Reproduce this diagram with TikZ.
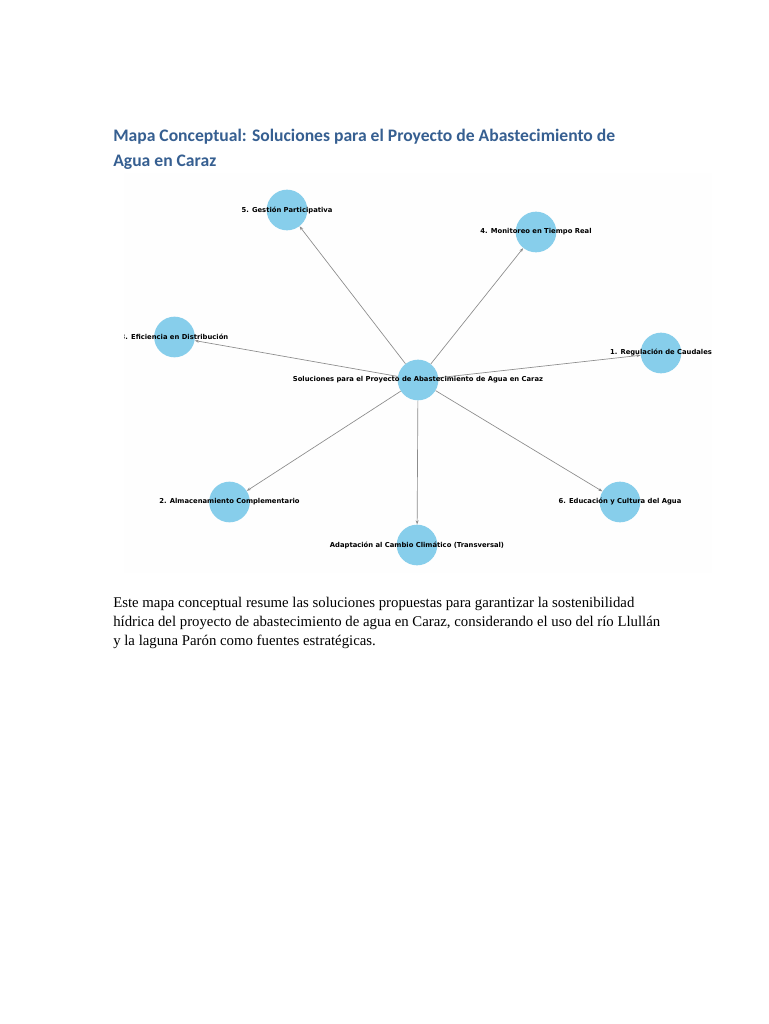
\documentclass[tikz,border=0pt]{standalone}
\usepackage{fontspec}
\setmainfont{Liberation Serif}
\newfontfamily\titlefont{Carlito}
\newfontfamily\labfont{DejaVu Sans}
\usetikzlibrary{arrows.meta}
\definecolor{headblue}{HTML}{365F91}
\definecolor{skyblue}{HTML}{87CEEB}
\definecolor{edgegray}{HTML}{8C8C8C}
\begin{document}
\begin{tikzpicture}[x=0.75pt,y=-0.75pt,
  bubble/.style={circle,fill=skyblue,draw=none,minimum size=30.5pt,inner sep=0pt},
  lab/.style={font=\labfont\bfseries\fontsize{5.1}{6}\selectfont,text=black,inner sep=0pt},
  conn/.style={draw=edgegray,line width=0.5pt,-{Stealth[length=3pt,width=2.2pt]}},
  titletext/.style={font=\titlefont\bfseries\fontsize{13.2}{16}\selectfont,text=headblue,anchor=base west,inner sep=0pt},
  bodytext/.style={font=\fontsize{11.1}{13}\selectfont,text=black,anchor=base west,inner sep=0pt}]
\useasboundingbox (0,0) rectangle (768,1024);
\fill[white] (0,0) rectangle (768,1024);
\node[titletext] (t1) at (113,142) {Mapa Conceptual: Soluciones para el Proyecto de Abastecimiento de};
\node[titletext] (t2) at (113,166) {Agua en Caraz};
\begin{scope}
\clip (124,173) rectangle (712,573);
\fill[black!0.5] (124,173) rectangle (712,573);
\node[bubble] (c) at (418,380) {};
\node[bubble] (n5) at (287,210) {};
\node[bubble] (n4) at (536,232) {};
\node[bubble] (n3) at (174.5,337) {};
\node[bubble] (n1) at (661,353) {};
\node[bubble] (n2) at (229.5,502) {};
\node[bubble] (n7) at (417,545) {};
\node[bubble] (n6) at (620,502) {};
\foreach \t in {n5,n4,n3,n1,n2,n7,n6} \draw[conn] (c) -- (\t);
\node[lab] (lc) at (c) {Soluciones para el Proyecto de Abastecimiento de Agua en Caraz};
\node[lab] (l5) at (n5) {5. Gestión Participativa};
\node[lab] (l4) at (n4) {4. Monitoreo en Tiempo Real};
\node[lab] (l3) at (n3) {3. Eficiencia en Distribución};
\node[lab] (l1) at (n1) {1. Regulación de Caudales};
\node[lab] (l2) at (n2) {2. Almacenamiento Complementario};
\node[lab] (l7) at (n7) {Adaptación al Cambio Climático (Transversal)};
\node[lab] (l6) at (n6) {6. Educación y Cultura del Agua};
\end{scope}
\node[bodytext] (b1) at (113,607) {Este mapa conceptual resume las soluciones propuestas para garantizar la sostenibilidad};
\node[bodytext] (b2) at (113,626) {hídrica del proyecto de abastecimiento de agua en Caraz, considerando el uso del río Llullán};
\node[bodytext] (b3) at (113,645) {y la laguna Parón como fuentes estratégicas.};
\end{tikzpicture}
\end{document}
